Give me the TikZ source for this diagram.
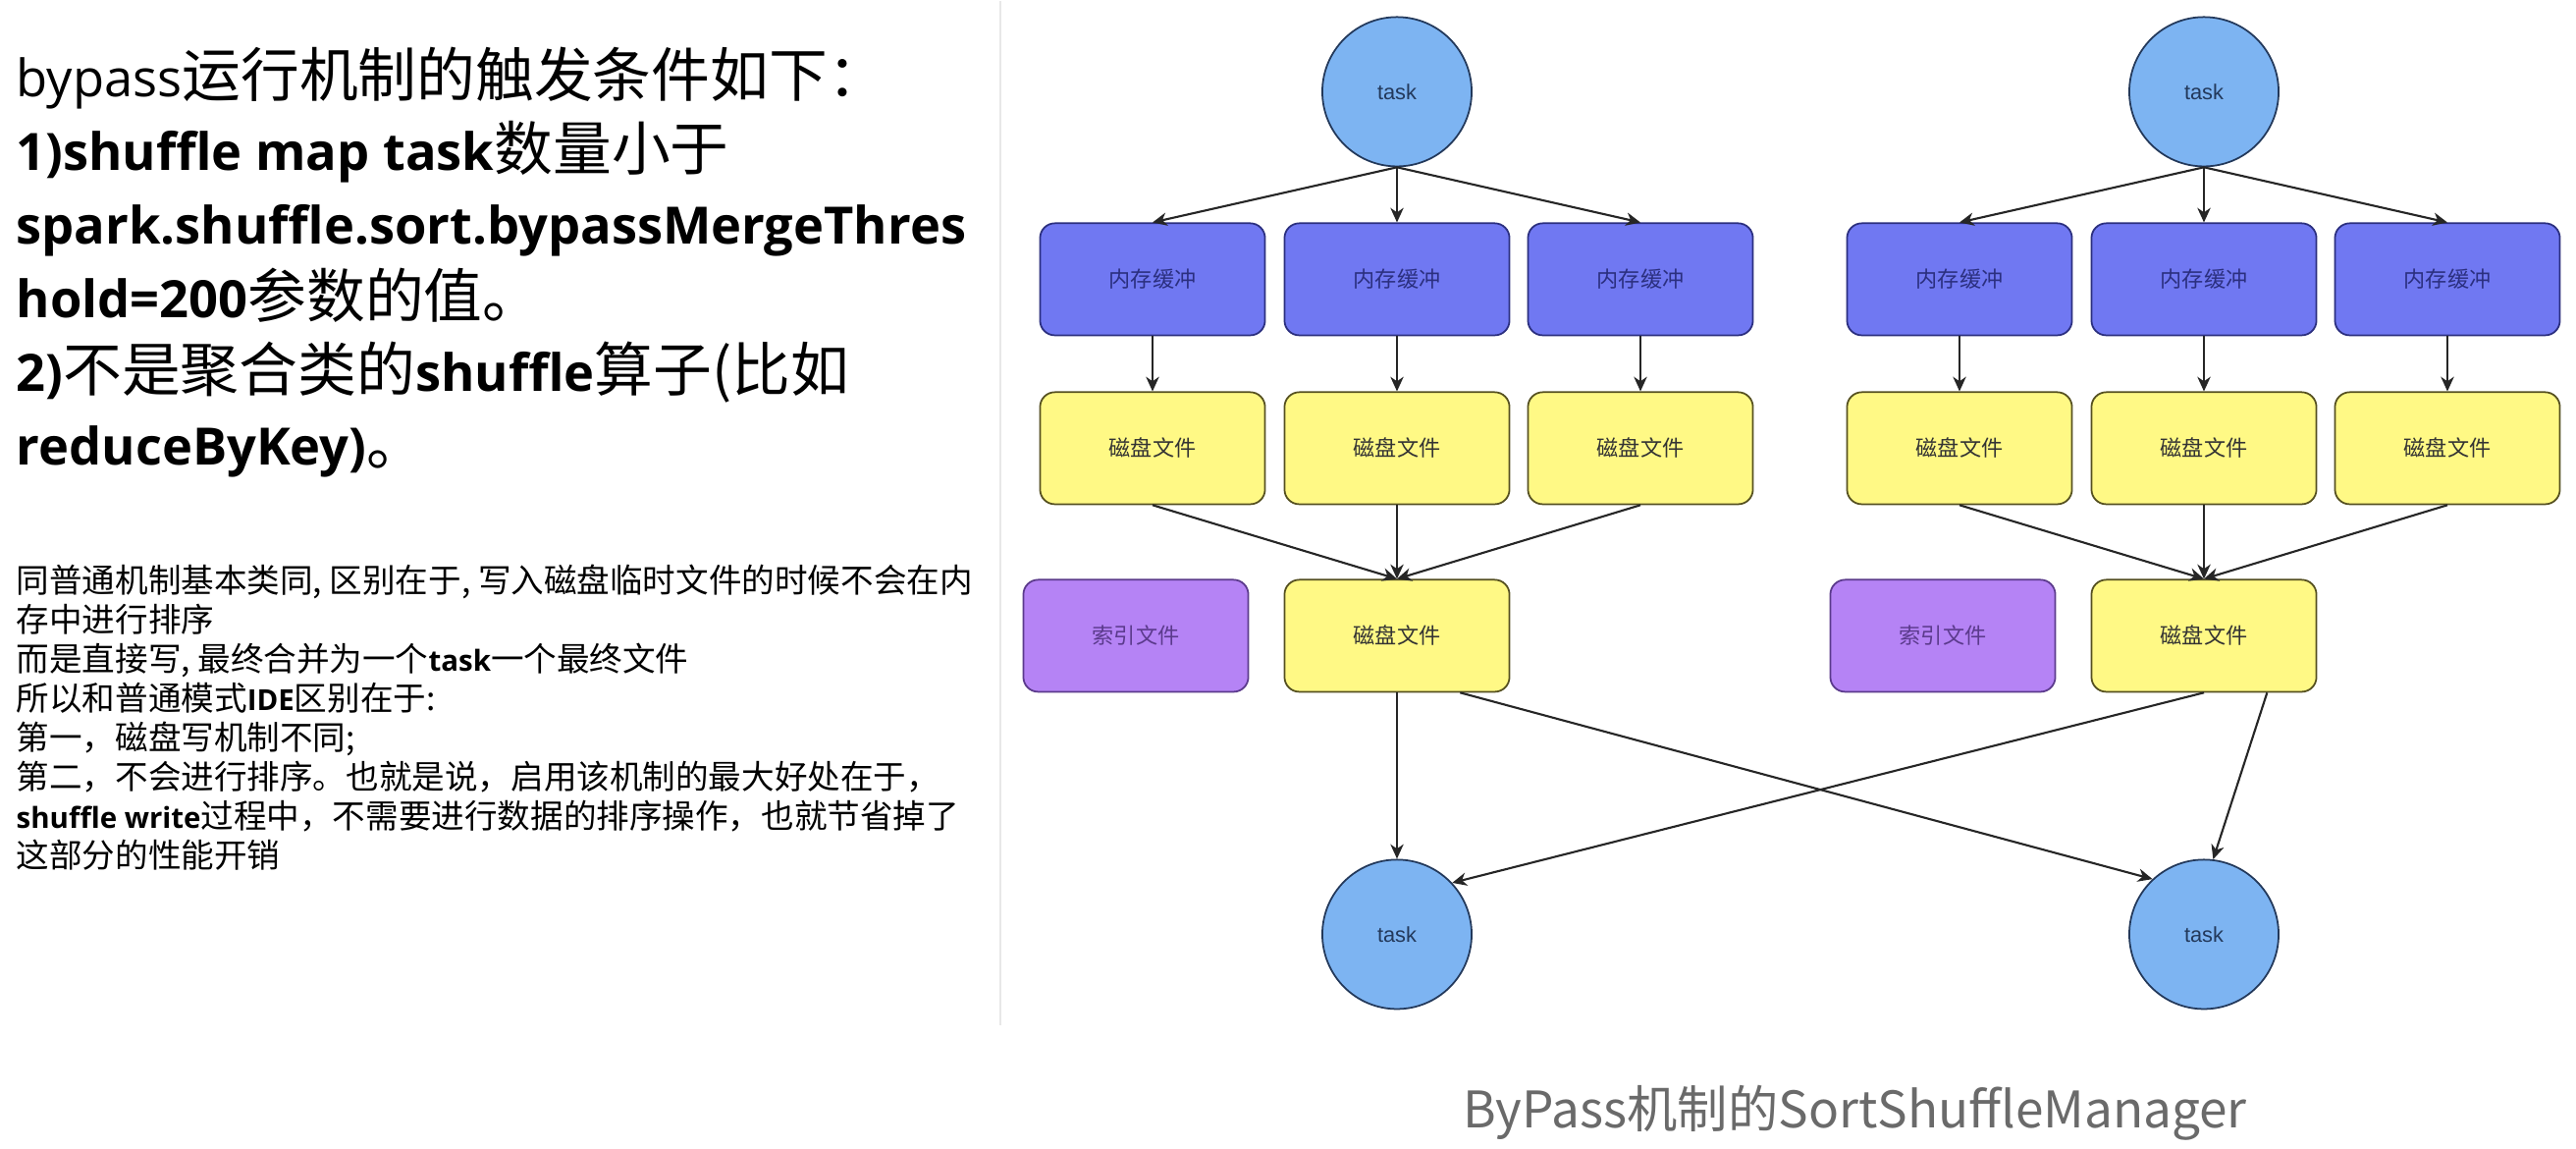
\documentclass[tikz,border=0pt]{standalone}
\usepackage{fontspec}
\setmainfont{Noto Sans CJK SC}
\newfontfamily\lat{Open Sans}[Scale=0.877]
\newfontfamily\hel{Liberation Sans}
\usetikzlibrary{arrows.meta}

\definecolor{taskblue}{HTML}{7DB4F2}
\definecolor{taskline}{HTML}{23395B}
\definecolor{bufblue}{HTML}{7078F2}
\definecolor{bufline}{HTML}{2B2F7F}
\definecolor{disky}{HTML}{FFF985}
\definecolor{diskline}{HTML}{555020}
\definecolor{idxpurple}{HTML}{B583F5}
\definecolor{idxline}{HTML}{5B3A8C}
\definecolor{sepgray}{HTML}{E8E8E8}
\definecolor{capgray}{HTML}{6A6A6A}

\newcommand{\latb}[1]{{\lat\bfseries #1}}

\tikzset{
  task/.style={circle, draw=taskline, line width=0.5pt, fill=taskblue, minimum size=1.52cm, inner sep=0pt,
    text=taskline, font=\hel\fontsize{6.2pt}{7pt}\selectfont},
  box/.style={rectangle, rounded corners=0.15cm, line width=0.5pt, minimum width=2.29cm, minimum height=1.14cm,
    inner sep=0pt, font=\fontsize{6.3pt}{7.5pt}\selectfont},
  buf/.style={box, draw=bufline, fill=bufblue, text=bufline},
  disk/.style={box, draw=diskline, fill=disky, text=black!80},
  idx/.style={box, draw=idxline, fill=idxpurple, text=idxline},
  link/.style={draw=black!85, line width=0.6pt, -{Stealth[length=4.2pt,width=3.8pt,inset=1.3pt]}}
}

\begin{document}
\begin{tikzpicture}[x=0.01cm,y=-0.01cm]
\fill[white] (0,0) rectangle (2624,1168);
\draw[sepgray, line width=0.8pt] (1019,0) -- (1019,1043);

% text on the left
\node[anchor=north west, inner sep=0pt, align=left, font=\fontsize{17pt}{21.3pt}\selectfont] (cond) at (16,46)
  {{\lat bypass}运行机制的触发条件如下：\\
   \latb{1)shuffle map task}数量小于\\
   \latb{spark.shuffle.sort.bypassMergeThres}\\
   \latb{hold=200}参数的值。\\
   \latb{2)}不是聚合类的\latb{shuffle}算子(比如\\
   \latb{reduceByKey)}。};
\node[anchor=north west, inner sep=0pt, align=left, font=\fontsize{9.55pt}{11.38pt}\selectfont] (note) at (16,573)
  {同普通机制基本类同, 区别在于, 写入磁盘临时文件的时候不会在内\\
   存中进行排序\\
   而是直接写, 最终合并为一个\latb{task}一个最终文件\\
   所以和普通模式\latb{IDE}区别在于:\\
   第一，磁盘写机制不同;\\
   第二，不会进行排序。也就是说，启用该机制的最大好处在于，\\
   \latb{shuffle write}过程中，不需要进行数据的排序操作，也就节省掉了\\
   这部分的性能开销};

% left shuffle
\node[task] (taskA) at (1423,92) {task};
\node[buf] (bufA1) at (1174,283) {内存缓冲};
\node[buf] (bufA2) at (1423,283) {内存缓冲};
\node[buf] (bufA3) at (1671,283) {内存缓冲};
\node[disk] (diskA1) at (1174,455) {磁盘文件};
\node[disk] (diskA2) at (1423,455) {磁盘文件};
\node[disk] (diskA3) at (1671,455) {磁盘文件};
\node[idx] (idxA) at (1157,646) {索引文件};
\node[disk] (mergeA) at (1423,646) {磁盘文件};
\node[task] (redA) at (1423,950) {task};

% right shuffle
\node[task] (taskB) at (2245,92) {task};
\node[buf] (bufB1) at (1996,283) {内存缓冲};
\node[buf] (bufB2) at (2245,283) {内存缓冲};
\node[buf] (bufB3) at (2493,283) {内存缓冲};
\node[disk] (diskB1) at (1996,455) {磁盘文件};
\node[disk] (diskB2) at (2245,455) {磁盘文件};
\node[disk] (diskB3) at (2493,455) {磁盘文件};
\node[idx] (idxB) at (1979,646) {索引文件};
\node[disk] (mergeB) at (2245,646) {磁盘文件};
\node[task] (redB) at (2245,950) {task};

\draw[link] (taskA.south) -- (bufA1.north);
\draw[link] (taskA.south) -- (bufA2.north);
\draw[link] (taskA.south) -- (bufA3.north);
\draw[link] (bufA1) -- (diskA1);
\draw[link] (bufA2) -- (diskA2);
\draw[link] (bufA3) -- (diskA3);
\draw[link] (diskA1.south) -- (mergeA.north);
\draw[link] (diskA2.south) -- (mergeA.north);
\draw[link] (diskA3.south) -- (mergeA.north);

\draw[link] (taskB.south) -- (bufB1.north);
\draw[link] (taskB.south) -- (bufB2.north);
\draw[link] (taskB.south) -- (bufB3.north);
\draw[link] (bufB1) -- (diskB1);
\draw[link] (bufB2) -- (diskB2);
\draw[link] (bufB3) -- (diskB3);
\draw[link] (diskB1.south) -- (mergeB.north);
\draw[link] (diskB2.south) -- (mergeB.north);
\draw[link] (diskB3.south) -- (mergeB.north);

\draw[link] (mergeA) -- (redA);
\draw[link] (mergeA.-42) -- (redB.133);
\draw[link] (mergeB.south) -- (redA.43);
\draw[link] (mergeB.-42) -- (redB.83);

\node[anchor=base west, inner sep=0pt, text=capgray, font=\fontsize{14.6pt}{17pt}\selectfont] (cap) at (1490,1147)
  {ByPass机制的SortShuffleManager};
\end{tikzpicture}
\end{document}
